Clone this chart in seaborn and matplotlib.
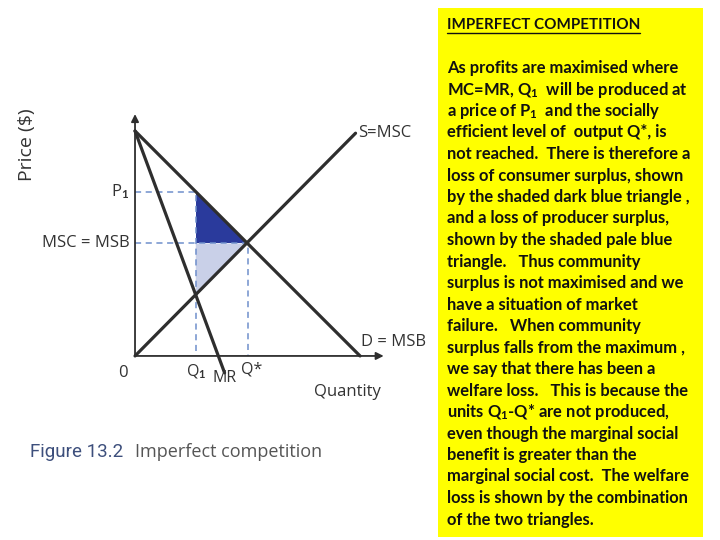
import matplotlib
matplotlib.use('Agg')
import matplotlib.pyplot as plt
from matplotlib.lines import Line2D
import seaborn as sns

# curves of the diagram (quantity, price)
demand_q = [0, 10]
demand_p = [10, 0]
supply_q = [0, 9.8]
supply_p = [0, 9.9]
mr_q = [0, 3.98]
mr_p = [10, -0.75]

q1, p1 = 2.7, 7.3          # monopoly output and price
q_star, p_star = 5.0, 5.0  # socially efficient point
mr_at_q1 = 2.7             # where MR meets MSC

box_title = 'IMPERFECT COMPETITION'
box_lines = [
    'As profits are maximised where',
    'MC=MR, Q$_1$  will be produced at',
    'a price of P$_1$  and the socially',
    'efficient level of  output Q*, is',
    'not reached.  There is therefore a',
    'loss of consumer surplus, shown',
    'by the shaded dark blue triangle ,',
    'and a loss of producer surplus,',
    'shown by the shaded pale blue',
    'triangle.   Thus community',
    'surplus is not maximised and we',
    'have a situation of market',
    'failure.   When community',
    'surplus falls from the maximum ,',
    'we say that there has been a',
    'welfare loss.   This is because the',
    'units Q$_1$-Q* are not produced,',
    'even though the marginal social',
    'benefit is greater than the',
    'marginal social cost.  The welfare',
    'loss is shown by the combination',
    'of the two triangles.',
]

sns.set_style('white')
plt.rcParams['mathtext.fontset'] = 'custom'
plt.rcParams['mathtext.rm'] = 'Lato:bold'
plt.rcParams['mathtext.default'] = 'rm'

W, H = 720, 540
fig = plt.figure(figsize=(7.2, 5.4), dpi=100)
fig.patch.set_facecolor('white')

# diagram axes: 22.5 px per unit, origin at pixel (135, 356)
ax = fig.add_axes([0, 0, 437 / W, 1])
ax.set_xlim(-6, 13.42)
ax.set_ylim(-8.18, 15.82)
ax.axis('off')

ink = '#2e2e2e'
dash = '#6f8fcc'

ax.fill([q1, q1, q_star], [p1, p_star, p_star], color='#2a3a9c', lw=0, zorder=1)
ax.fill([q1, q1, q_star], [p_star, mr_at_q1, p_star], color='#c9d0e8', lw=0, zorder=1)

ax.plot([0, q1, q1], [p1, p1, 0], ls=(0, (4, 3)), color=dash, lw=1.1, zorder=2)
ax.plot([0, q_star, q_star], [p_star, p_star, 0], ls=(0, (4, 3)), color=dash, lw=1.1, zorder=2)

for qs, ps in [(demand_q, demand_p), (supply_q, supply_p), (mr_q, mr_p)]:
    sns.lineplot(x=qs, y=ps, ax=ax, color=ink, lw=2.3, sort=False, estimator=None, zorder=3)

arrow = dict(arrowstyle='-|>', color=ink, lw=1.3, mutation_scale=11, shrinkA=0, shrinkB=0)
ax.annotate('', xy=(0, 10.75), xytext=(0, 0), arrowprops=arrow, zorder=4)
ax.annotate('', xy=(11.05, 0), xytext=(0, 0), arrowprops=arrow, zorder=4)

lab = dict(family='Open Sans', color='#333333', fontsize=12)
small = dict(lab, fontsize=11.5)
ax.text(-0.25, p1, 'P$_1$', ha='right', va='center', **lab)
ax.text(-0.25, p_star, 'MSC = MSB', ha='right', va='center', **lab)
ax.text(-0.55, -0.75, '0', ha='center', va='center', **lab)
ax.text(q1, -0.65, 'Q$_1$', ha='center', va='center', **small)
ax.text(4.0, -0.97, 'MR', ha='center', va='center', **small)
ax.text(q_star + 0.17, -0.62, 'Q*', ha='center', va='center', **small)
ax.text(supply_q[1] + 0.1, supply_p[1], 'S=MSC', ha='left', va='center', **lab)
ax.text(demand_q[1] + 0.05, 0.6, 'D = MSB', ha='left', va='center', **lab)
ax.text(9.45, -1.6, 'Quantity', ha='center', va='center', **lab)
ax.text(-4.8, 9.4, 'Price (\\$)', ha='center', va='center', rotation=90,
        **dict(lab, fontsize=14))

# caption under the diagram
f1 = fig.text(30 / W, 1 - 452 / H, 'Figure 13.2', family='Roboto', fontsize=13.5,
              color='#3d4f7c', ha='left', va='center')

# yellow text box
fig.patches.append(plt.Rectangle((438 / W, 1 - 537 / H), (703 - 438) / W, (537 - 8) / H,
                                 transform=fig.transFigure, facecolor='#ffff00',
                                 edgecolor='none', zorder=0))
txt = dict(family='Lato', weight='bold', fontsize=11.9, color='#111111', ha='left', va='center')
t = fig.text(447 / W, 1 - 25 / H, box_title, **dict(txt, fontsize=10.9))
for i, line in enumerate(box_lines):
    fig.text(447 / W, 1 - (68 + 21.5 * i) / H, line, **txt)

fig.canvas.draw()
fb = f1.get_window_extent()
fig.text((fb.x1 + 12) / W, 1 - 452 / H, 'Imperfect competition', family='Open Sans',
         fontsize=13, color='#555555', ha='left', va='center')
bb = t.get_window_extent()
fig.lines.append(Line2D([bb.x0 / W, bb.x1 / W], [(bb.y0 - 1) / H, (bb.y0 - 1) / H],
                        transform=fig.transFigure, color='#111111', lw=1))

fig.savefig('out.png', dpi=100)
